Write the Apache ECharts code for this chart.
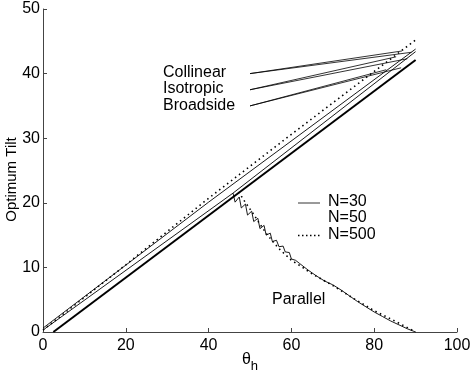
<!DOCTYPE html>
<html><head><meta charset="utf-8">
<script src="https://cdn.jsdelivr.net/npm/echarts@6/dist/echarts.min.js"></script>
<style>html,body{margin:0;padding:0;background:#fff}#c{width:474px;height:379px}</style>
</head><body><div id="c"></div>
<script>
// ---- data (x = theta_h, y = optimum tilt) ----
const xTicks = [0, 20, 40, 60, 80, 100];
const yTicks = [0, 10, 20, 30, 40, 50];

const broadsideThick = [[2.5, 0], [90, 42.1]];
const thinLowerN30 = [[0, 0.3], [45.9, 21.5], [90, 43.4]];
const thinUpperN50 = [[0, 0.6], [40, 20.1], [90, 43.8]];
const dottedN500 = [[0, 0.3], [20, 10.4], [40, 20.7], [60, 30.6], [90, 45.2]];

const parallelN30 = [[45.9, 21.5], [46.4, 20.1], [47.4, 20.9], [47.9, 19.2], [48.9, 19.8], [49.4, 18.1],
  [50.4, 18.7], [50.9, 17.1], [51.9, 17.6], [52.4, 16.0], [53.4, 16.5], [53.9, 15.0], [54.9, 15.3],
  [55.4, 14.0], [56.4, 14.2], [57.0, 13.2], [58.0, 13.3], [58.5, 12.4], [59.5, 12.3], [60.0, 11.3],
  [61.0, 11.1], [62.0, 10.6], [64.0, 9.6], [66.0, 8.7], [68.0, 7.9], [70.0, 7.3], [72.0, 6.5],
  [74.0, 5.6], [76.0, 4.7], [78.0, 3.9], [80.0, 3.1], [82.0, 2.4], [84.0, 1.7], [86.0, 1.1],
  [88.0, 0.5], [90.0, 0]];
const parallelN500 = [[47.3, 21.7], [48.3, 20.6], [49.5, 19.5], [51, 18.1], [52.5, 16.6], [54, 15.2],
  [55.5, 14.0], [57, 12.9], [58.5, 12.0], [60, 11.1], [62, 10.3], [65, 9.0], [70, 7.2], [75, 5.2],
  [80, 3.3], [85, 1.7], [90, 0]];

const labelNames = ['Collinear', 'Isotropic', 'Broadside'];
const pointerStarts = [[50, 40], [50, 37.5], [50, 35]];
const pointerEnds = [
  [[86.7, 43.5], [89, 43.3]],
  [[85.3, 42.6], [88, 42.3]],
  [[82.9, 40.6], [86.5, 40.9]]
];
const legendNames = ['N=30', 'N=50', 'N=500'];

// ---- chart ----
const FONT = 'Liberation Sans';
const chart = echarts.init(document.getElementById('c'), null, {renderer: 'canvas'});

const series = [];
function line(data, width, type, color) {
  series.push({type: 'line', data: data, symbol: 'none', silent: true, animation: false,
    lineStyle: {color: color || '#000', width: width, type: type || 'solid'}});
}
line(broadsideThick, 2);
line(thinLowerN30, 0.9);
line(thinUpperN50, 0.9);
line(dottedN500, 1.6, [1.5, 3.5]);
line(parallelN30, 0.9);
line(parallelN500, 1.6, [1.5, 3.5]);
pointerStarts.forEach((s, i) => {
  pointerEnds[i].forEach(e => line([s, e], 0.8));
});

const TXT = '16px "' + FONT + '"';
const graphic = [];
const labelY = [74, 90, 106.5];
labelNames.forEach((t, i) => {
  graphic.push({type: 'text', left: 163, top: labelY[i] - 9,
    style: {text: t, font: TXT, fill: '#000'}});
});
graphic.push({type: 'text', left: 272, top: 292,
  style: {text: 'Parallel', font: TXT, fill: '#000'}});
const legY = [203, 218.5, 235.5];
legendNames.forEach((t, i) => {
  graphic.push({type: 'text', left: 328, top: legY[i] - 9,
    style: {text: t, font: TXT, fill: '#000'}});
});
graphic.push({type: 'line', shape: {x1: 298, y1: legY[0], x2: 320, y2: legY[0]},
  style: {stroke: '#000', lineWidth: 0.8}});
graphic.push({type: 'line', shape: {x1: 298, y1: legY[2], x2: 321, y2: legY[2]},
  style: {stroke: '#000', lineWidth: 1.6, lineDash: [1.5, 2.5]}});

chart.setOption({
  animation: false,
  backgroundColor: '#fff',
  grid: {left: 43, right: 17, top: 9, bottom: 47, containLabel: false, outerBoundsMode: 'none'},
  xAxis: {type: 'value', min: xTicks[0], max: xTicks[xTicks.length - 1], interval: 20,
    name: 'θ{s|h}', nameLocation: 'middle', nameGap: 14, nameMoveOverlap: false,
    nameTextStyle: {fontFamily: FONT, fontSize: 16, color: '#000',
      rich: {s: {fontFamily: FONT, fontSize: 13, color: '#000', verticalAlign: 'bottom', padding: [14, 0, 0, 0]}}},
    axisLine: {lineStyle: {color: '#444', width: 1}},
    axisTick: {inside: true, length: 4, lineStyle: {color: '#444'}},
    axisLabel: {fontFamily: FONT, fontSize: 16, color: '#000', margin: 6},
    splitLine: {show: false}},
  yAxis: {type: 'value', min: yTicks[0], max: yTicks[yTicks.length - 1], interval: 10,
    name: 'Optimum Tilt', nameLocation: 'middle', nameGap: 24, nameRotate: 90, nameMoveOverlap: false,
    nameTextStyle: {fontFamily: FONT, fontSize: 15, color: '#000', padding: [0, 18, 0, 0]},
    axisLine: {show: true, lineStyle: {color: '#444', width: 1}},
    axisTick: {show: true, inside: true, length: 4, lineStyle: {color: '#444'}},
    axisLabel: {fontFamily: FONT, fontSize: 16, color: '#000', margin: 3},
    splitLine: {show: false}},
  series: series,
  graphic: graphic
});
</script></body></html>
